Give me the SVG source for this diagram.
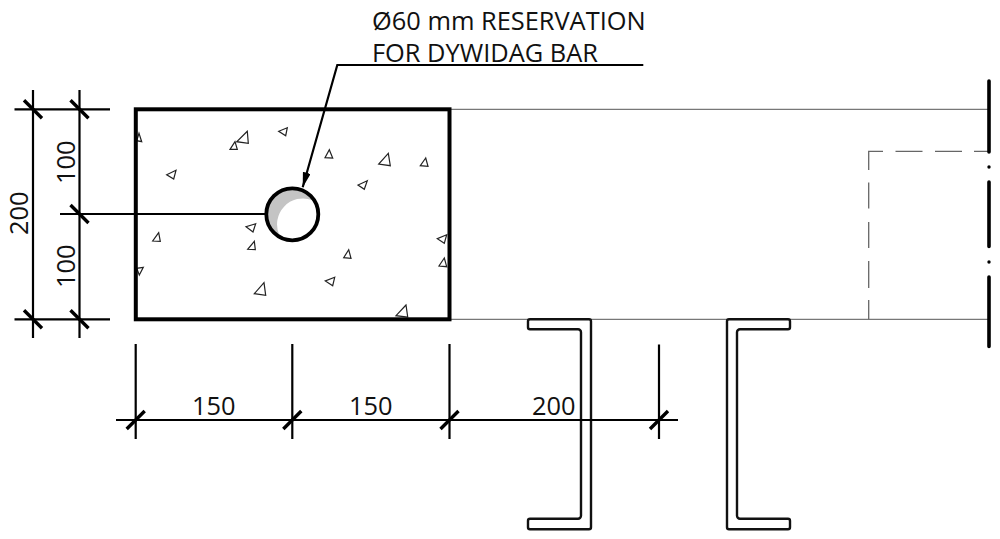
<svg xmlns="http://www.w3.org/2000/svg" width="1000" height="539" viewBox="0 0 1000 539">
<style>
text{font-family:"Open Sans","Noto Sans","Liberation Sans",sans-serif;font-size:25.4px;fill:#111}
.dim{stroke:#000;stroke-width:2.2;fill:none}
.tick{stroke:#000;stroke-width:3.4;fill:none}
.thin{stroke:#777;stroke-width:1.3;fill:none}
.dash{stroke:#666;stroke-width:1.3;fill:none}
.bar{stroke:#000;stroke-width:3.6;fill:none;stroke-linecap:round}
.chan{stroke:#111;stroke-width:2.4;fill:none;stroke-linejoin:round}
.agg polygon{fill:#fff;stroke:#222;stroke-width:1.2}
</style>
<defs>
<marker id="arrow" markerUnits="userSpaceOnUse" markerWidth="16" markerHeight="10" refX="15" refY="4" orient="auto"><path d="M0 0L15 4L0 8Z" fill="#000"/></marker>
</defs>
<rect width="1000" height="539" fill="#fff"/>
<g id="wall-lines">
<path class="thin" d="M449 109.3H988M449 319.3H988"/>
<path class="dash" d="M868.7 319.3V300M868.7 288V261M868.7 248V222M868.7 208.5V182.5M868.7 170V151.3H883M895.5 151.3H922.5M935 151.3H962M974 151.3H988"/>
</g>
<g id="wall-edge">
<path class="bar" d="M989 81V152M989 182V246.5M989 277V346.5"/>
<circle cx="989" cy="167" r="1.7"/><circle cx="989" cy="262" r="1.7"/>
</g>
<g id="concrete-section">
<g class="agg">
<polygon points="139,133.3 136.7,140.7 141.7,141.7"/>
<polygon points="247.3,131.3 236.7,141.7 248.3,143.3"/>
<polygon points="235,141.7 230,149.3 237.3,149.3"/>
<polygon points="287.3,127.7 278.7,131.3 285.7,135.7"/>
<polygon points="176,170.3 166.7,174.7 173.7,179"/>
<polygon points="329.3,149.7 325,157.7 332.7,158"/>
<polygon points="388.3,153.3 378.7,164 390.3,165.7"/>
<polygon points="425.7,158 420.3,165.7 428,166.3"/>
<polygon points="367.3,180.7 358,185 364.3,189.3"/>
<polygon points="255.7,223.7 246,226.7 253,232"/>
<polygon points="158.7,232.7 152.7,241 160.3,241.3"/>
<polygon points="254.3,241.3 247.7,249.3 255.3,249.7"/>
<polygon points="446.7,234.7 437.3,238.7 444.3,243.3"/>
<polygon points="444.3,258 439,266 446.7,266.7"/>
<polygon points="348.7,249.7 343.7,257.7 351,258.3"/>
<polygon points="143.3,267.3 136.7,268.3 139.3,275"/>
<polygon points="334.7,277.3 325.3,281 332.7,285.7"/>
<polygon points="264,282.7 254.3,293.7 265.7,295.3"/>
<polygon points="406,305 396,315.7 407.7,317"/>
</g>
<rect x="135.8" y="109.3" width="313.7" height="210" fill="none" stroke="#000" stroke-width="4"/>
</g>
<g id="reservation">
<circle cx="292.3" cy="214.3" r="26" fill="#fff"/>
<path d="M312 200A24.5 24.5 0 1 0 279.3 235A26 26 0 0 1 312 200Z" fill="#c4c4c4"/>
<circle cx="292.3" cy="214.3" r="26" fill="none" stroke="#000" stroke-width="3.8"/>
</g>
<g id="channel-1"><path class="chan" d="M530 319.3H589A2 2 0 0 1 591 321.3V527.3A2 2 0 0 1 589 529.3H530A2 2 0 0 1 528 527.3V520.7A2 2 0 0 1 530 518.7H578A3 3 0 0 0 581 515.7V332.3A3 3 0 0 0 578 329.3H530A2 2 0 0 1 528 327.3V321.3A2 2 0 0 1 530 319.3Z"/></g>
<g id="channel-2"><path class="chan" d="M788 319.3H729A2 2 0 0 0 727 321.3V527.3A2 2 0 0 0 729 529.3H788A2 2 0 0 0 790 527.3V520.7A2 2 0 0 0 788 518.7H740A3 3 0 0 1 737 515.7V332.3A3 3 0 0 1 740 329.3H788A2 2 0 0 0 790 327.3V321.3A2 2 0 0 0 788 319.3Z"/></g>
<g id="connectors">
<polyline points="643.3,65 337.3,65 302.7,187.3" fill="none" stroke="#000" stroke-width="2.2" marker-end="url(#arrow)"/>
<path class="dim" d="M33 90V338M79.5 90V338M14.5 109.3H110M14.5 319.3H110M60 214H265"/>
<path class="dim" d="M116 420H678M135.7 344V439M292.3 344V439M449.5 344V439M659 344.5V439"/>
<path class="tick" d="M24 100.3L42 118.3M70.5 100.3L88.5 118.3M70.5 205L88.5 223M24 310.3L42 328.3M70.5 310.3L88.5 328.3"/>
<path class="tick" d="M126.7 429L144.7 411M283.3 429L301.3 411M440.5 429L458.5 411M650 429L668 411"/>
</g>
<g id="labels">
<text x="372" y="30">Ø60 mm RESERVATION</text>
<text x="372" y="61.5">FOR DYWIDAG BAR</text>
<text x="192" y="415">150</text>
<text x="349" y="415">150</text>
<text x="532" y="415">200</text>
<text transform="translate(28 235) rotate(-90)">200</text>
<text transform="translate(75 184) rotate(-90)">100</text>
<text transform="translate(75 288) rotate(-90)">100</text>
</g>
</svg>
